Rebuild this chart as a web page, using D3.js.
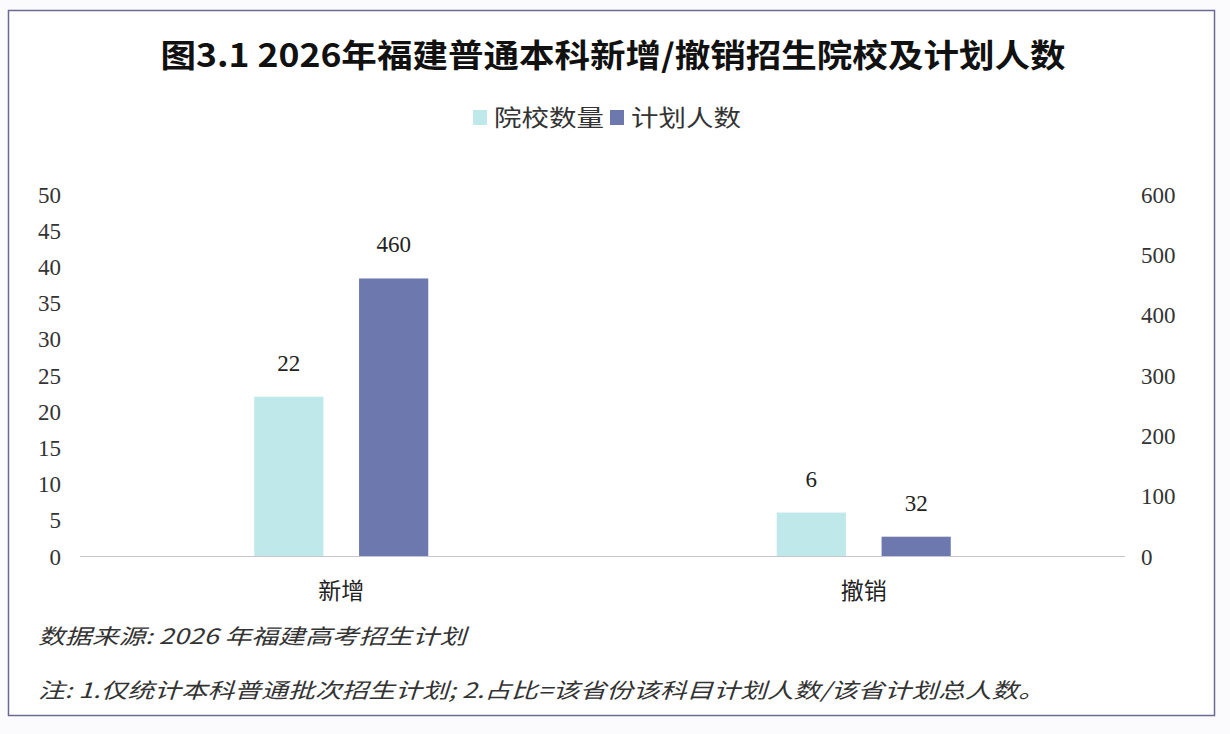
<!DOCTYPE html>
<html><head><meta charset="utf-8">
<script src="https://cdn.jsdelivr.net/npm/d3@7"></script>
<style>
html,body{margin:0;padding:0;background:#fff;}
svg{display:block;}
</style></head>
<body>
<svg id="chart" width="1230" height="734"></svg>
<script>
const titleText = "图3.1 2026年福建普通本科新增/撤销招生院校及计划人数";
const categories = ["新增", "撤销"];
const seriesNames = ["院校数量", "计划人数"];
const schoolCounts = [22, 6];
const planCounts = [460, 32];
const leftTicks = [0, 5, 10, 15, 20, 25, 30, 35, 40, 45, 50];
const rightTicks = [0, 100, 200, 300, 400, 500, 600];
const sourceNote = "数据来源:  2026 年福建高考招生计划";
const footNote = "注:  1.仅统计本科普通批次招生计划;  2.占比=该省份该科目计划人数/该省计划总人数。";

const colors = ["#bfe8ea", "#6c78ae"];
const svg = d3.select("#chart");
const serif = "'Liberation Serif','DejaVu Serif',serif";
const cjk = "'Noto Sans CJK SC','Noto Sans',sans-serif";

svg.append("rect").attr("x",0).attr("y",0).attr("width",1230).attr("height",734).attr("fill","#fbfbfd");
svg.append("rect").attr("x",8.5).attr("y",10.5).attr("width",1206).attr("height",705)
  .attr("fill","#ffffff").attr("stroke","#6a6a92").attr("stroke-width",1.5);

// title
svg.append("text").attr("x",613).attr("y",67).attr("text-anchor","middle")
  .attr("font-family",cjk).attr("font-weight","bold").attr("font-size",32).attr("fill","#111")
  .attr("textLength",905).attr("lengthAdjust","spacingAndGlyphs").text(titleText);

// scales
const plotTop = 194, plotBottom = 556, plotLeft = 80, plotRight = 1125;
const x0 = d3.scaleBand().domain(categories).range([plotLeft, plotRight]);
const x1 = d3.scaleBand().domain(seriesNames).range([-87, 87]).paddingInner(0.34);
const yL = d3.scaleLinear().domain([0, 50]).range([plotBottom, plotTop]);
const yR = d3.scaleLinear().domain([0, 600]).range([plotBottom, plotTop]);

// axes
const axL = d3.axisLeft(yL).tickValues(leftTicks).tickSize(0).tickPadding(0);
const gL = svg.append("g").attr("transform",`translate(61,0)`).call(axL);
gL.select(".domain").remove();
gL.selectAll("text").attr("font-family",serif).attr("font-size",23).attr("fill","#333").attr("dy","0.35em");

const axR = d3.axisRight(yR).tickValues(rightTicks).tickSize(0).tickPadding(0);
const gR = svg.append("g").attr("transform",`translate(1141,0)`).call(axR);
gR.select(".domain").remove();
gR.selectAll("text").attr("font-family",serif).attr("font-size",23).attr("fill","#333").attr("dy","0.35em");

// bars
const data = categories.map((c,i)=>({cat:c, vals:[
  {name:seriesNames[0], v:schoolCounts[i], y:yL, color:colors[0]},
  {name:seriesNames[1], v:planCounts[i], y:yR, color:colors[1]}
]}));
const cx = c => x0(c) + x0.bandwidth()/2;
const g = svg.append("g");
data.forEach(d=>{
  d.vals.forEach(s=>{
    const bx = cx(d.cat) + x1(s.name);
    g.append("rect").attr("x",bx).attr("y",s.y(s.v)).attr("width",x1.bandwidth())
      .attr("height",plotBottom - s.y(s.v)).attr("fill",s.color);
    g.append("text").attr("x",bx + x1.bandwidth()/2).attr("y",s.y(s.v)-26)
      .attr("text-anchor","middle").attr("font-family",serif).attr("font-size",23)
      .attr("fill","#222").text(s.v);
  });
});

// baseline
svg.append("line").attr("x1",plotLeft).attr("x2",plotRight).attr("y1",plotBottom+0.5).attr("y2",plotBottom+0.5)
  .attr("stroke","#c4c6d2").attr("stroke-width",1.2);

// category labels
const xa = d3.axisBottom(x0).tickSize(0).tickPadding(0);
const gx = svg.append("g").attr("transform",`translate(0,${plotBottom})`).call(xa);
gx.select(".domain").remove();
gx.selectAll("text").attr("font-family",cjk).attr("font-size",23).attr("fill","#222").attr("dy","0").attr("y",43);

// legend
const leg = svg.append("g");
const legItems = [{x:473, name:seriesNames[0], c:colors[0]},{x:610, name:seriesNames[1], c:colors[1]}];
legItems.forEach(l=>{
  leg.append("rect").attr("x",l.x).attr("y",110).attr("width",14).attr("height",15).attr("fill",l.c);
  leg.append("text").attr("x",l.x+21).attr("y",126).attr("font-family",cjk).attr("font-size",23)
    .attr("fill","#333").attr("textLength",110).attr("lengthAdjust","spacingAndGlyphs").text(l.name);
});

// notes
svg.append("text").attr("x",38).attr("y",644).attr("font-family",cjk).attr("font-style","italic")
  .attr("font-size",21).attr("fill","#333").attr("textLength",428).attr("lengthAdjust","spacingAndGlyphs").text(sourceNote);
svg.append("text").attr("x",38).attr("y",698).attr("font-family",cjk).attr("font-style","italic")
  .attr("font-size",21).attr("fill","#333").attr("textLength",1007).attr("lengthAdjust","spacingAndGlyphs").text(footNote);
</script>
</body></html>
